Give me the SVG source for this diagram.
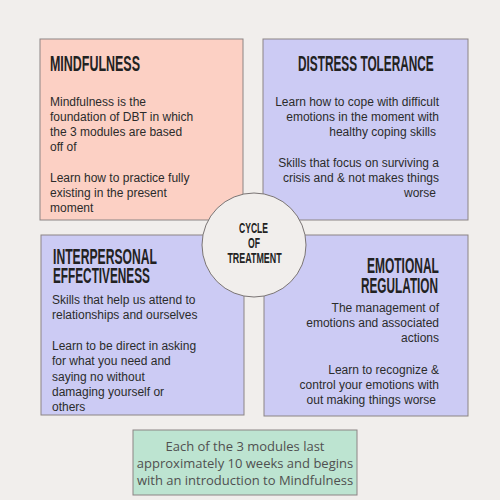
<svg xmlns="http://www.w3.org/2000/svg" width="500" height="500" viewBox="0 0 500 500">
<style>
.box{stroke:#8c8484;stroke-width:1}
.h{font-family:"Liberation Sans",Arial,sans-serif;font-size:22.5px;font-weight:bold;fill:#222}
.b{font-family:"Liberation Sans",Arial,sans-serif;font-size:12px;fill:#2b2b2b}
.r{text-anchor:end}
.c{font-family:"Liberation Sans",Arial,sans-serif;font-size:15.5px;fill:#222;font-weight:bold;text-anchor:middle}
.g{font-family:"Open Sans",sans-serif;font-size:13px;fill:#505050;text-anchor:middle}
</style>
<rect width="500" height="500" fill="#f1eeec"/>
<g id="mindfulness">
<rect class="box" x="40" y="39" width="203" height="181" fill="#fcd0c4"/>
<text class="h" transform="translate(50,71) scale(0.554,1)">MINDFULNESS</text>
<text class="b" x="50" y="105.5">Mindfulness is the</text>
<text class="b" x="50" y="121">foundation of DBT in which</text>
<text class="b" x="50" y="136">the 3 modules are based</text>
<text class="b" x="50" y="151">off of</text>
<text class="b" x="50" y="182">Learn how to practice fully</text>
<text class="b" x="50" y="197">existing in the present</text>
<text class="b" x="50" y="212">moment</text>
</g>
<g id="distress-tolerance">
<rect class="box" x="263" y="39" width="205" height="181" fill="#cccbf4"/>
<text class="h" transform="translate(298,71) scale(0.5255,1)">DISTRESS TOLERANCE</text>
<text class="b r" x="439" y="105.5">Learn how to cope with difficult</text>
<text class="b r" x="439" y="121">emotions in the moment with</text>
<text class="b r" x="436" y="136">healthy coping skills</text>
<text class="b r" x="439" y="166.5">Skills that focus on surviving a</text>
<text class="b r" x="439" y="181.5">crisis and &amp; not makes things</text>
<text class="b r" x="436" y="197">worse</text>
</g>
<g id="interpersonal-effectiveness">
<rect class="box" x="41" y="235" width="203" height="180" fill="#cccbf4"/>
<text class="h" transform="translate(53,264) scale(0.54,1)">INTERPERSONAL</text>
<text class="h" transform="translate(53,283) scale(0.524,1)">EFFECTIVENESS</text>
<text class="b" x="52" y="303.5">Skills that help us attend to</text>
<text class="b" x="52" y="319">relationships and ourselves</text>
<text class="b" x="52" y="350">Learn to be direct in asking</text>
<text class="b" x="52" y="365">for what you need and</text>
<text class="b" x="52" y="380.5">saying no without</text>
<text class="b" x="52" y="396">damaging yourself or</text>
<text class="b" x="52" y="411">others</text>
</g>
<g id="emotional-regulation">
<rect class="box" x="264" y="235" width="204" height="181" fill="#cccbf4"/>
<text class="h" transform="translate(367,273) scale(0.533,1)">EMOTIONAL</text>
<text class="h" transform="translate(361,293) scale(0.524,1)">REGULATION</text>
<text class="b r" x="439" y="311.5">The management of</text>
<text class="b r" x="439" y="326.5">emotions and associated</text>
<text class="b r" x="439" y="342">actions</text>
<text class="b r" x="439" y="373.5">Learn to recognize &amp;</text>
<text class="b r" x="439" y="389">control your emotions with</text>
<text class="b r" x="436" y="404">out making things worse</text>
</g>
<g id="cycle">
<circle cx="254" cy="245" r="52" fill="#f1eeec" stroke="#7a7474" stroke-width="1"/>
<text class="c" transform="translate(253.5,233) scale(0.552,1)">CYCLE</text>
<text class="c" transform="translate(254,248) scale(0.558,1)">OF</text>
<text class="c" transform="translate(254.5,263) scale(0.575,1)">TREATMENT</text>
</g>
<g id="note">
<rect class="box" x="133" y="430" width="224" height="65" fill="#bde4d1"/>
<text class="g" x="245" y="450.5">Each of the 3 modules last</text>
<text class="g" x="245" y="468">approximately 10 weeks and begins</text>
<text class="g" x="245" y="485">with an introduction to Mindfulness</text>
</g>
<g id="connectors"></g>
</svg>
